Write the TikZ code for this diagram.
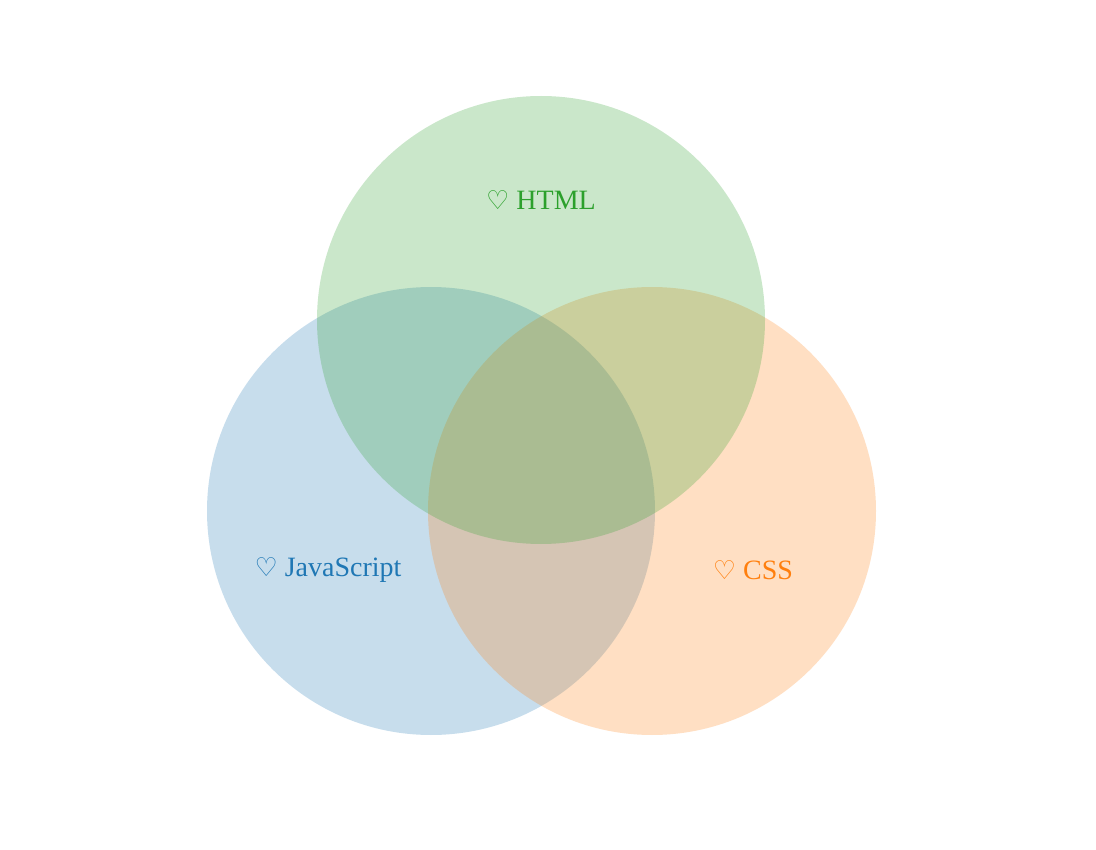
\documentclass[tikz,border=0pt]{standalone}
\usepackage{fontspec}
\setmainfont{Liberation Serif}
\newfontfamily\symf{DejaVu Sans}
\definecolor{cjs}{HTML}{1F77B4}
\definecolor{ccss}{HTML}{FF7F0E}
\definecolor{chtml}{HTML}{2CA02C}
\begin{document}
\begin{tikzpicture}[x=1pt,y=-1pt,
  setc/.style={circle,minimum size=448pt,inner sep=0pt,fill opacity=0.25,draw=none},
  lab/.style={font=\fontsize{28}{30}\selectfont,inner sep=0pt}]
\useasboundingbox (0,0) rectangle (1096,850);
\node[setc,fill=cjs] (js) at (431,511) {};
\node[setc,fill=ccss] (css) at (652,511) {};
\node[setc,fill=chtml] (html) at (541,320) {};
\node[lab,text=chtml] (lhtml) at (541,200) {{\symf\fontsize{26}{28}\selectfont ♡} HTML};
\node[lab,text=cjs] (ljs) at (328,570) {{\symf\fontsize{26}{28}\selectfont ♡} JavaScript};
\node[lab,text=ccss] (lcss) at (753,570) {{\symf\fontsize{26}{28}\selectfont ♡} CSS};
\end{tikzpicture}
\end{document}
